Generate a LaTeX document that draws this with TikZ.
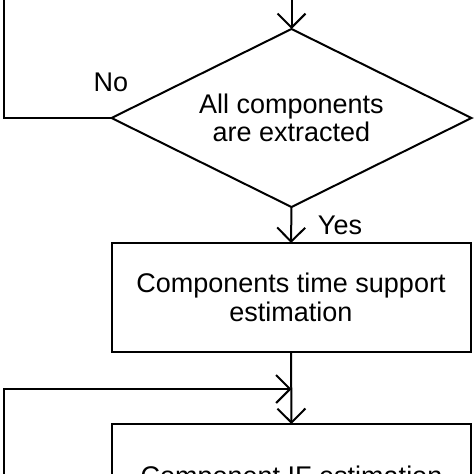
\documentclass[tikz,border=0pt]{standalone}
\usepackage{fontspec}
\setmainfont{Liberation Sans}
\usetikzlibrary{shapes.geometric,arrows.meta}
\begin{document}
\begin{tikzpicture}[x=1pt,y=-1pt,
  every node/.style={font=\fontsize{27}{28.5}\selectfont},
  conn/.style={line width=2pt},
  arr/.style={conn,-{Straight Barb[length=14pt,width=28pt,line width=2pt]}},
  stepbox/.style={draw,line width=2pt,rectangle,minimum width=359pt,minimum height=109pt,inner sep=0pt,outer sep=0pt,align=center},
  decision/.style={draw,line width=2pt,diamond,aspect=2,minimum width=360pt,minimum height=178pt,inner sep=0pt,outer sep=0pt,align=center},
  lbl/.style={inner sep=0pt}]
\useasboundingbox (0,0) rectangle (474,474);
\node[decision] (dia) at (291.5,118) {All components\\are extracted};
\node[stepbox] (box1) at (291,297.5) {Components time support\\estimation};
\node[stepbox] (box2) at (291.5,478.5) {Component IF estimation};
\coordinate (top) at (291.5,-3);
\coordinate (nl) at (4,-3);
\coordinate (bl) at (4,477);
\coordinate (j) at (291.5,389);
\draw[arr] (top) -- (dia.north);
\draw[conn] (dia.west) -- (nl |- dia.west) -- (nl);
\node[lbl] (no) at (111,82) {No};
\draw[arr] (dia.south) -- (box1.north);
\node[lbl] (yes) at (340,225) {Yes};
\draw[arr] (box1.south) -- (box2.north);
\draw[arr] (bl) -- (bl |- j) -- (j);
\end{tikzpicture}
\end{document}
